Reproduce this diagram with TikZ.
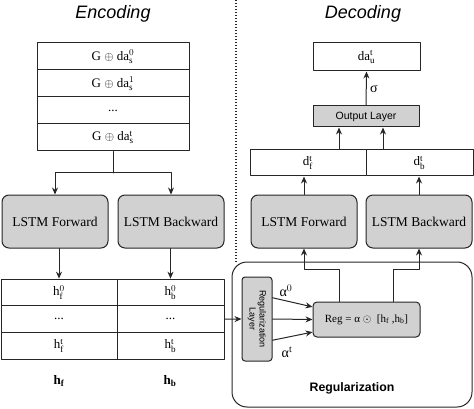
\documentclass[tikz,border=0pt]{standalone}
\usepackage{fontspec}
\setmainfont{Liberation Serif}
\setsansfont{Liberation Sans}
\usepackage{tikz}
\usetikzlibrary{arrows.meta, positioning, calc}

\definecolor{linec}{HTML}{262626}
\definecolor{boxgray}{HTML}{D1D1D1}

\tikzset{
    cell/.style={draw=linec, fill=white, line width=1pt, inner sep=0pt, minimum height=27pt, font=\fontsize{13}{15}\selectfont},
    lstm/.style={draw=linec, fill=boxgray, line width=1pt, rounded corners=7pt, inner sep=0pt, minimum width=106pt, minimum height=53pt, font=\fontsize{13.5}{16}\selectfont},
    gbox/.style={draw=linec, fill=boxgray, line width=1pt, rounded corners=3pt, inner sep=0pt},
    flow/.style={->, draw=linec, line width=1pt},
    title/.style={font=\sffamily\itshape\fontsize{18}{21}\selectfont},
}

\begin{document}
\begin{tikzpicture}[x=1pt, y=-1pt, >={Stealth[length=7pt, width=6pt]}, line cap=round, line join=round]
    \useasboundingbox (0,0) rectangle (474,409);

    % Titles
    \node[title] (enc) at (113,14) {Encoding};
    \node[title] (dec) at (363,14) {Decoding};

    % Encoder input stack
    \foreach \i/\txt in {
        0/{G $\oplus$ da$^{0}_{\mathrm{s}}$},
        1/{G $\oplus$ da$^{1}_{\mathrm{s}}$},
        2/{...},
        3/{G $\oplus$ da$^{\mathrm{t}}_{\mathrm{s}}$}
    }{
        \node[cell, minimum width=152pt] (g\i) at (113,56.5+27*\i) {\txt};
    }

    % Encoder LSTMs
    \node[lstm] (encF) at (55,221.5) {LSTM Forward};
    \node[lstm] (encB) at (171,221.5) {LSTM Backward};

    \coordinate (split) at (113,173);
    \draw[linec, line width=1pt] (g3.south) -- (split);
    \draw[flow] (split) -| (encF.north);
    \draw[flow] (split) -| (encB.north);

    % Hidden states
    \foreach \i/\hsc in {0/0, 1/, 2/\mathrm{t}}{
        \node[cell, minimum width=116pt, minimum height=26.7pt] (hf\i) at (59,292.5+26.7*\i)
            {\ifx\hsc\empty ...\else h$^{\hsc}_{\mathrm{f}}$\fi};
        \node[cell, minimum width=107pt, minimum height=26.7pt] (hb\i) at (170.5,292.5+26.7*\i)
            {\ifx\hsc\empty ...\else h$^{\hsc}_{\mathrm{b}}$\fi};
    }
    \draw[flow] (hf0.north |- encF.south) -- (hf0.north);
    \draw[flow] (hb0.north |- encB.south) -- (hb0.north);

    \node[font=\bfseries\fontsize{13}{15}\selectfont] (hflab) at (59,381) {h$_{\mathbf{f}}$};
    \node[font=\bfseries\fontsize{13}{15}\selectfont] (hblab) at (170,381) {h$_{\mathbf{b}}$};

    % Divider
    \node[draw=linec, rounded corners=15pt, line width=1pt, minimum width=240pt, minimum height=145pt] (regbox) at (352,334.5) {};
    \coordinate (dtop) at (236,0);
    \draw[linec, line width=1.4pt, line cap=butt, dash pattern=on 1.4pt off 1.6pt] (dtop) -- (dtop |- regbox.north);

    % Regularization block
    \node[font=\sffamily\bfseries\fontsize{12.3}{14}\selectfont] (reglab) at (352,388) {Regularization};
    \node[gbox, minimum width=30pt, minimum height=84pt] (reglayer) at (257,319) {};
    \node[rotate=-90, align=center, font=\sffamily\fontsize{9}{10}\selectfont] (reglayertxt) at (reglayer) {Regularization\\Layer};
    \node[gbox, rounded corners=4pt, minimum width=107pt, minimum height=35pt, font=\fontsize{11}{13}\selectfont] (reg) at (366.5,319.5)
        {Reg = α $\odot$ \ [h$_{\mathrm{f}}$ ,h$_{\mathrm{b}}$]};

    \draw[flow] (hb1.east) -- (reglayer.west);
    \draw[flow] ($(reglayer.east)!0.5!(reglayer.north east)$) -- ($(reg.west)!0.7!(reg.north west)$);
    \draw[flow] (reglayer.east) -- (reg.west);
    \draw[flow] ($(reglayer.east)!0.5!(reglayer.south east)$) -- ($(reg.west)!0.7!(reg.south west)$);
    \node[font=\fontsize{14}{16}\selectfont] (a0) at (286,291) {α$^{0}$};
    \node[font=\fontsize{14}{16}\selectfont] (at) at (287,352) {α$^{\mathrm{t}}$};

    % Decoder LSTMs
    \node[lstm] (decF) at (304,221.5) {LSTM Forward};
    \node[lstm] (decB) at (419,221.5) {LSTM Backward};
    \draw[flow] ([xshift=-27.5pt]reg.north) -- ++(0,-32) -| (decF.south);
    \draw[flow] ([xshift=26.5pt]reg.north) -- ++(0,-32) -| (decB.south);

    % Decoder states
    \node[cell, minimum width=116pt, minimum height=26pt] (df) at (308,163) {d$^{\mathrm{t}}_{\mathrm{f}}$};
    \node[cell, minimum width=107pt, minimum height=26pt] (db) at (419.5,163) {d$^{\mathrm{t}}_{\mathrm{b}}$};
    \draw[flow] (decF.north) -- (decF.north |- df.south);
    \draw[flow] (decB.north) -- (decB.north |- db.south);

    % Output
    \node[gbox, rounded corners=0pt, minimum width=106pt, minimum height=21pt, font=\sffamily\fontsize{10.5}{12}\selectfont] (out) at (366,116.5) {Output Layer};
    \draw[flow] ([xshift=-27pt]out.south |- df.north) -- ([xshift=-27pt]out.south);
    \draw[flow] ([xshift=17pt]out.south |- df.north) -- ([xshift=17pt]out.south);

    \node[cell, minimum width=107pt, minimum height=28pt] (da) at (366.5,57) {da$^{\mathrm{t}}_{\mathrm{u}}$};
    \draw[flow] (out.north) -- (da.south) node[midway, right, font=\fontsize{14}{16}\selectfont] (sig) {σ};

\end{tikzpicture}
\end{document}
